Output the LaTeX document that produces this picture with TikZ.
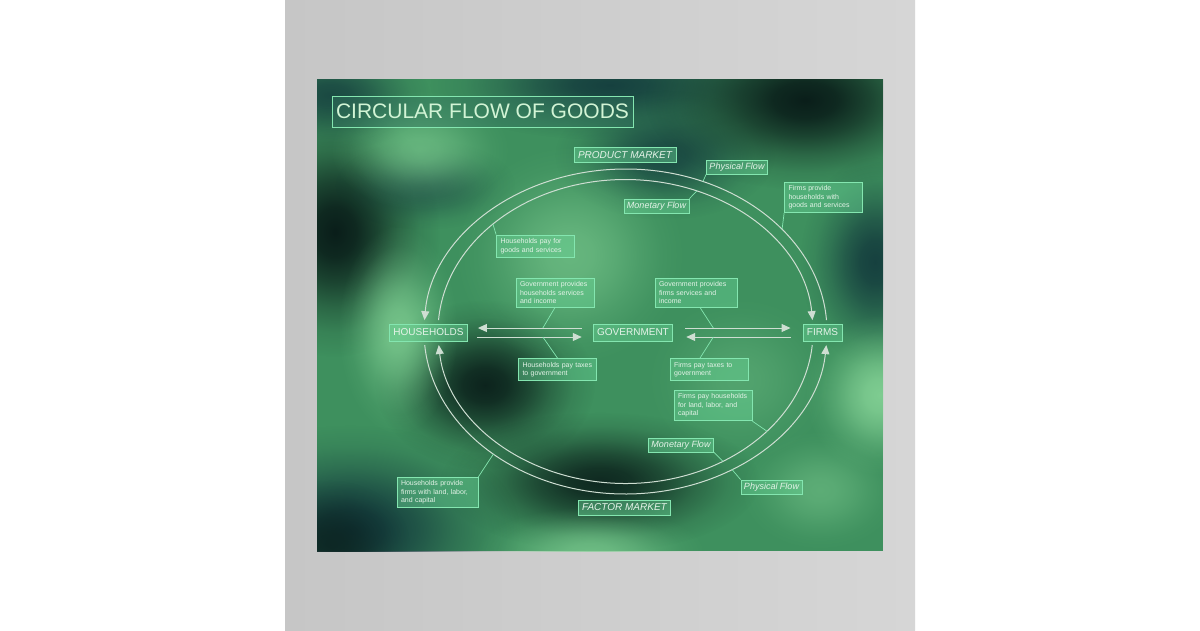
\documentclass[tikz,border=0pt]{standalone}
\usepackage{fontspec}
\setmainfont{Liberation Sans}
\usetikzlibrary{positioning,calc,arrows.meta,fadings}

\definecolor{wallGreyA}{RGB}{198,198,198}
\definecolor{wallGreyB}{RGB}{214,214,214}
\definecolor{posterGreen}{RGB}{62,144,94}
\definecolor{cloudDark}{RGB}{10,30,26}
\definecolor{cloudTeal}{RGB}{18,56,60}
\definecolor{cloudLight}{RGB}{130,208,148}
\definecolor{boxEdge}{RGB}{132,230,176}
\definecolor{boxFill}{RGB}{104,212,150}
\definecolor{inkMint}{RGB}{228,243,232}
\definecolor{flowLine}{RGB}{206,222,210}

% soft cloud mask, opaque in the middle
\pgfdeclareradialshading{cloudshade}{\pgfpointorigin}{color(0bp)=(white);
  color(5bp)=(white!90!black); color(10bp)=(white!66!black);
  color(15bp)=(white!36!black); color(20bp)=(white!12!black);
  color(25bp)=(black); color(50bp)=(black)}
\pgfdeclarefading{cloudfade}{\pgfuseshading{cloudshade}}

\tikzset{
  sector/.style={draw=boxEdge, line width=0.8pt, fill=boxFill, fill opacity=0.45,
    text opacity=1, text=inkMint, font=\fontsize{10}{12}\selectfont,
    inner xsep=4pt, inner ysep=0pt, minimum height=17pt},
  market/.style={sector, font=\fontsize{10}{12}\selectfont\itshape, minimum height=15pt},
  flowtag/.style={sector, font=\fontsize{9}{11}\selectfont\itshape, minimum height=14pt, inner xsep=3pt},
  note/.style={sector, font=\fontsize{7}{8.5}\selectfont, text width=70pt, align=left,
    inner ysep=3.5pt, minimum height=0pt},
  flow/.style={draw=flowLine, line width=1pt},
  flowtip/.style={-{Triangle[length=9pt,width=8pt]}},
  leader/.style={draw=boxEdge, line width=0.7pt},
  blob/.style={path fading=cloudfade}
}

\begin{document}
\begin{tikzpicture}[x=1pt,y=-1pt]
  \useasboundingbox (0,0) rectangle (1200,630);
  \fill[white] (0,0) rectangle (1200,630);
  \shade[left color=wallGreyA, right color=wallGreyB] (285,0) rectangle (915,630);

  % poster with clouds
  \fill[posterGreen] (317,79) rectangle (883,551);
  \begin{scope}
    \clip (317,79) rectangle (883,551);
    \fill[cloudTeal, blob, opacity=0.8] (330,95) ellipse (100 and 55);
    \fill[cloudTeal, blob, opacity=0.9] (610,85) ellipse (180 and 55);
    \fill[cloudTeal, blob, opacity=0.8] (665,155) ellipse (110 and 65);
    \fill[cloudDark, blob] (805,100) ellipse (160 and 90);
    \fill[cloudDark, blob] (335,232) ellipse (105 and 125);
    \fill[cloudTeal, blob, opacity=0.6] (425,185) ellipse (90 and 45);
    \fill[cloudTeal, blob, opacity=0.9] (875,262) ellipse (75 and 105);
    \fill[cloudDark, blob, opacity=0.95] (485,385) ellipse (110 and 85);
    \fill[cloudDark, blob, opacity=0.9] (600,482) ellipse (160 and 70);
    \fill[cloudTeal, blob] (350,530) ellipse (170 and 105);
    \fill[cloudDark, blob, opacity=0.7] (330,545) ellipse (80 and 65);
    \fill[cloudLight, blob, opacity=0.6] (420,150) ellipse (90 and 60);
    \fill[cloudLight, blob, opacity=0.8] (398,330) ellipse (60 and 105);
    \fill[cloudLight, blob, opacity=0.6] (570,255) ellipse (115 and 110);
    \fill[cloudLight, blob, opacity=0.95] (880,395) ellipse (75 and 80);
    \fill[cloudLight, blob, opacity=0.7] (590,552) ellipse (115 and 45);
    \fill[cloudLight, blob, opacity=0.45] (820,490) ellipse (80 and 60);
    \fill[cloudLight, blob, opacity=0.3] (740,380) ellipse (95 and 85);
  \end{scope}

  % title
  \node[sector, fill=cloudTeal!60!boxFill, fill opacity=0.45, text=inkMint!92!green,
    font=\fontsize{21}{24}\selectfont, minimum width=299pt, minimum height=31pt]
    (title) at (482.5,111.5) {CIRCULAR FLOW OF GOODS};

  % sectors
  \node[sector] (households) at (428.5,332.5) {HOUSEHOLDS};
  \node[sector] (gov) at (633,332.5) {GOVERNMENT};
  \node[sector] (firms) at (822.5,332.5) {FIRMS};

  % markets and flow tags
  \node[market] (product) at (625,155) {PRODUCT MARKET};
  \node[market] (factor) at (624.5,507.5) {FACTOR MARKET};
  \node[flowtag] (physTop) at (737,167) {Physical Flow};
  \node[flowtag] (monTop) at (656.5,206) {Monetary Flow};
  \node[flowtag] (monBot) at (681,445) {Monetary Flow};
  \node[flowtag] (physBot) at (771.5,487) {Physical Flow};

  % notes
  \node[note] (firmsGoods) at (823.5,197.5) {Firms provide\\households with\\goods and services};
  \node[note] (hhPay) at (535.5,246) {Households pay for\\goods and services};
  \node[note] (govHh) at (555,292.5) {Government provides\\households services\\and income};
  \node[note, text width=74pt] (govFirms) at (696,292.5) {Government provides\\firms services and\\income};
  \node[note] (hhTax) at (557.5,369.5) {Households pay taxes\\to government};
  \node[note] (firmsTax) at (709,369.5) {Firms pay taxes to\\government};
  \node[note] (firmsPay) at (713,405.5) {Firms pay households\\for land, labor, and\\capital};
  \node[note, text width=73pt] (hhProvide) at (437.5,492.5) {Households provide\\firms with land, labor,\\and capital};

  % the two rings
  \coordinate (hub) at (625.5,331.5);
  \draw[flow,flowtip] ($(hub)+(-4:201.5 and 162.5)$)
    arc[start angle=-4, end angle=-176, x radius=201.5, y radius=162.5];
  \draw[flow,flowtip] ($(hub)+(-175.7:187.5 and 152)$)
    arc[start angle=-175.7, end angle=-4.3, x radius=187.5, y radius=152];
  \draw[flow,flowtip] ($(hub)+(175.2:201.5 and 162.5)$)
    arc[start angle=175.2, end angle=4.8, x radius=201.5, y radius=162.5];
  \draw[flow,flowtip] ($(hub)+(5.1:187.5 and 152)$)
    arc[start angle=5.1, end angle=174.9, x radius=187.5, y radius=152];

  % government flows
  \draw[flow,flowtip] ($(gov.west)+(-11,-4.5)$) -- ($(households.east)+(10,-4.5)$);
  \draw[flow,flowtip] ($(households.east)+(9,4.5)$) -- ($(gov.west)+(-11,4.5)$);
  \draw[flow,flowtip] ($(gov.east)+(12,-4.5)$) -- ($(firms.west)+(-12,-4.5)$);
  \draw[flow,flowtip] ($(firms.west)+(-12,4.5)$) -- ($(gov.east)+(13,4.5)$);

  % leader lines
  \coordinate (physTopHit) at ($(hub)+(-67.4:201.5 and 162.5)$);
  \coordinate (monTopHit) at ($(hub)+(-67.6:187.5 and 152)$);
  \coordinate (goodsHit) at ($(hub)+(-39:201.5 and 162.5)$);
  \coordinate (payHit) at ($(hub)+(-135:187.5 and 152)$);
  \coordinate (wageHit) at ($(hub)+(41:187.5 and 152)$);
  \coordinate (monBotHit) at ($(hub)+(58.7:187.5 and 152)$);
  \coordinate (physBotHit) at ($(hub)+(58.1:201.5 and 162.5)$);
  \coordinate (landHit) at ($(hub)+(131:201.5 and 162.5)$);
  \draw[leader] (physTop.south west) -- (physTopHit);
  \draw[leader] (monTop.north east) -- (monTopHit);
  \draw[leader] (firmsGoods.south west) -- (goodsHit);
  \draw[leader] (hhPay.north west) -- (payHit);
  \draw[leader] (govHh.south) -- ($(households.east)!0.6!(gov.west)+(0,-4.5)$);
  \draw[leader] (hhTax.north) -- ($(households.east)!0.6!(gov.west)+(0,4.5)$);
  \draw[leader] ($(govFirms.south)+(4,0)$) -- ($(gov.east)!0.31!(firms.west)+(0,-4.5)$);
  \draw[leader] ($(firmsTax.north)+(-9,0)$) -- ($(gov.east)!0.31!(firms.west)+(0,4.5)$);
  \draw[leader] (firmsPay.south east) -- (wageHit);
  \draw[leader] (monBot.south east) -- (monBotHit);
  \draw[leader] (physBot.north west) -- (physBotHit);
  \draw[leader] (hhProvide.north east) -- (landHit);
\end{tikzpicture}
\end{document}
